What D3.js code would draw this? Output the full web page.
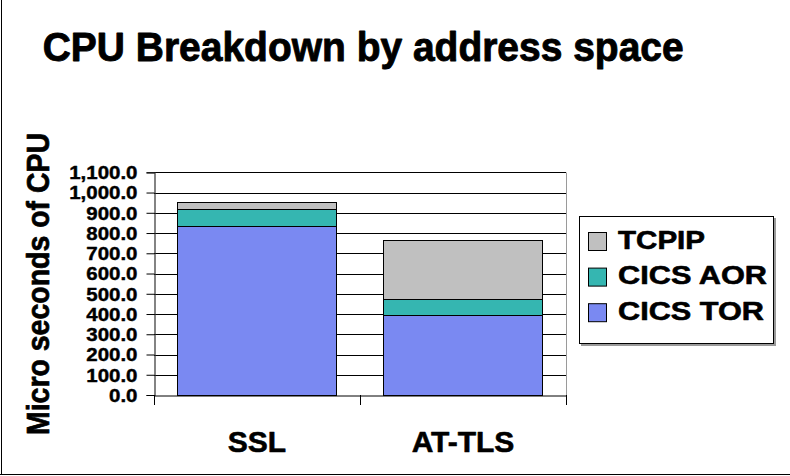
<!DOCTYPE html>
<html>
<head>
<meta charset="utf-8">
<script src="https://cdn.jsdelivr.net/npm/d3@7"></script>
<style>
  html, body { margin: 0; padding: 0; background: #fff; }
  svg { display: block; }
  text { font-family: "Liberation Sans", Arial, sans-serif; font-weight: bold; fill: #000; }
</style>
</head>
<body>
<svg id="chart" width="790" height="476"></svg>
<script>
// ---- data ----
const categories = ["SSL", "AT-TLS"];
const seriesNames = ["CICS TOR", "CICS AOR", "TCPIP"];
const cicsTor = [836, 393];
const cicsAor = [84, 81];
const tcpip = [35, 290];
const yTicks = [0, 100, 200, 300, 400, 500, 600, 700, 800, 900, 1000, 1100];
const colors = ["#7a89f2", "#35b6b1", "#c0c0c0"];
const legendOrder = ["TCPIP", "CICS AOR", "CICS TOR"];

const svg = d3.select("#chart");
const W = 790, H = 476;
const plot = { left: 154, right: 566, top: 172.3, bottom: 395 };

function fit(sel, target) {
  sel.each(function () {
    this.setAttribute("textLength", target);
    this.setAttribute("lengthAdjust", "spacingAndGlyphs");
  });
}
function scaleWidth(sel, factor) {
  sel.each(function () {
    const w = this.getComputedTextLength();
    this.setAttribute("textLength", w * factor);
    this.setAttribute("lengthAdjust", "spacingAndGlyphs");
  });
}
function heavy(sel, w) {
  sel.attr("stroke", "#000").attr("stroke-width", w).attr("stroke-linejoin", "round");
}

// outer frame (left + bottom visible)
svg.append("line").attr("x1", 1.5).attr("x2", 1.5).attr("y1", 0).attr("y2", 474.5)
  .attr("stroke", "#000").attr("stroke-width", 1);
svg.append("line").attr("x1", 0).attr("x2", W).attr("y1", 474.5).attr("y2", 474.5)
  .attr("stroke", "#000").attr("stroke-width", 1);

// title
svg.append("text").attr("x", 42.7).attr("y", 61).attr("font-size", 40)
  .text("CPU Breakdown by address space").call(fit, 641).call(heavy, 0.9);

// scales
const x = d3.scaleBand().domain(categories).range([plot.left, plot.right])
  .paddingInner(0.228).paddingOuter(0.114);
const y = d3.scaleLinear().domain([0, 1100]).range([plot.bottom, plot.top]);

// gridlines
svg.append("g").selectAll("line").data(yTicks.filter(d => d > 0)).join("line")
  .attr("x1", plot.left).attr("x2", plot.right)
  .attr("y1", d => Math.round(y(d)) + 0.5).attr("y2", d => Math.round(y(d)) + 0.5)
  .attr("stroke", "#000").attr("stroke-width", 1);

// plot right border
svg.append("line").attr("x1", plot.right + 0.5).attr("x2", plot.right + 0.5)
  .attr("y1", Math.round(plot.top) + 0.5).attr("y2", plot.bottom)
  .attr("stroke", "#9a9a9a").attr("stroke-width", 1);

// stacked bars
const table = categories.map((c, i) => ({ cat: c, "CICS TOR": cicsTor[i], "CICS AOR": cicsAor[i], "TCPIP": tcpip[i] }));
const stacked = d3.stack().keys(seriesNames)(table);
const gBars = svg.append("g");
stacked.forEach((layer, li) => {
  gBars.selectAll(null).data(layer).join("rect")
    .attr("x", d => Math.round(x(d.data.cat)) + 0.5)
    .attr("width", Math.round(x.bandwidth()))
    .attr("y", d => Math.round(y(d[1])) + 0.5)
    .attr("height", d => Math.round(y(d[0])) - Math.round(y(d[1])))
    .attr("fill", colors[li])
    .attr("stroke", "#000").attr("stroke-width", 1);
});

// y axis
const yAxis = d3.axisLeft(y).tickValues(yTicks).tickFormat(d3.format(",.1f"))
  .tickSize(8).tickPadding(9);
const gy = svg.append("g").attr("transform", `translate(${plot.left + 0.5},0)`).call(yAxis);
gy.select(".domain").attr("stroke", "#333").attr("stroke-width", 1.2);
gy.selectAll(".tick line").attr("stroke", "#000");
gy.selectAll(".tick text")
  .attr("font-family", "Liberation Sans, Arial, sans-serif").attr("font-weight", "bold")
  .attr("font-size", 17.5).attr("fill", "#000").attr("dy", "0.36em")
  .call(scaleWidth, 1.17).call(heavy, 0.4);

// x axis
const xAxis = d3.axisBottom(x).tickSize(0).tickFormat(d => d);
const gx = svg.append("g").attr("transform", `translate(0,${plot.bottom + 0.5})`).call(xAxis);
gx.select(".domain").attr("stroke", "#000").attr("stroke-width", 1);
gx.selectAll(".tick text")
  .attr("font-family", "Liberation Sans, Arial, sans-serif").attr("font-weight", "bold")
  .attr("font-size", 30).attr("fill", "#000").attr("y", 56).attr("dy", 0)
  .call(heavy, 0.6);
// category boundary ticks
const bounds = [plot.left, (x(categories[0]) + x.bandwidth() + x(categories[1])) / 2, plot.right];
svg.append("g").selectAll("line").data(bounds).join("line")
  .attr("x1", d => Math.round(d) + 0.5).attr("x2", d => Math.round(d) + 0.5)
  .attr("y1", plot.bottom).attr("y2", plot.bottom + 10)
  .attr("stroke", "#000").attr("stroke-width", 1);

// y axis title
svg.append("text").attr("transform", "translate(49,284) rotate(-90)")
  .attr("text-anchor", "middle").attr("font-size", 31)
  .text("Micro seconds of CPU").call(fit, 302).call(heavy, 0.7);

// legend
const lg = svg.append("g");
lg.append("rect").attr("x", 581).attr("y", 218).attr("width", 195).attr("height", 128)
  .attr("fill", "#9a9a9a");
lg.append("rect").attr("x", 579.5).attr("y", 216.5).attr("width", 194).attr("height", 127)
  .attr("fill", "#fff").attr("stroke", "#000").attr("stroke-width", 1);
const legendWidths = { "TCPIP": 87, "CICS AOR": 149, "CICS TOR": 146 };
const rows = lg.selectAll(".row").data(legendOrder).join("g")
  .attr("transform", (d, i) => `translate(0,${i * 35.6})`);
rows.append("rect").attr("x", 588.5).attr("y", 232.5).attr("width", 18).attr("height", 18)
  .attr("fill", d => colors[seriesNames.indexOf(d)]).attr("stroke", "#000").attr("stroke-width", 1);
rows.append("text").attr("x", 618).attr("y", 248.5).attr("font-size", 25.5)
  .text(d => d).call(heavy, 0.6).each(function (d) {
    this.setAttribute("textLength", legendWidths[d]);
    this.setAttribute("lengthAdjust", "spacingAndGlyphs");
  });
</script>
</body>
</html>
